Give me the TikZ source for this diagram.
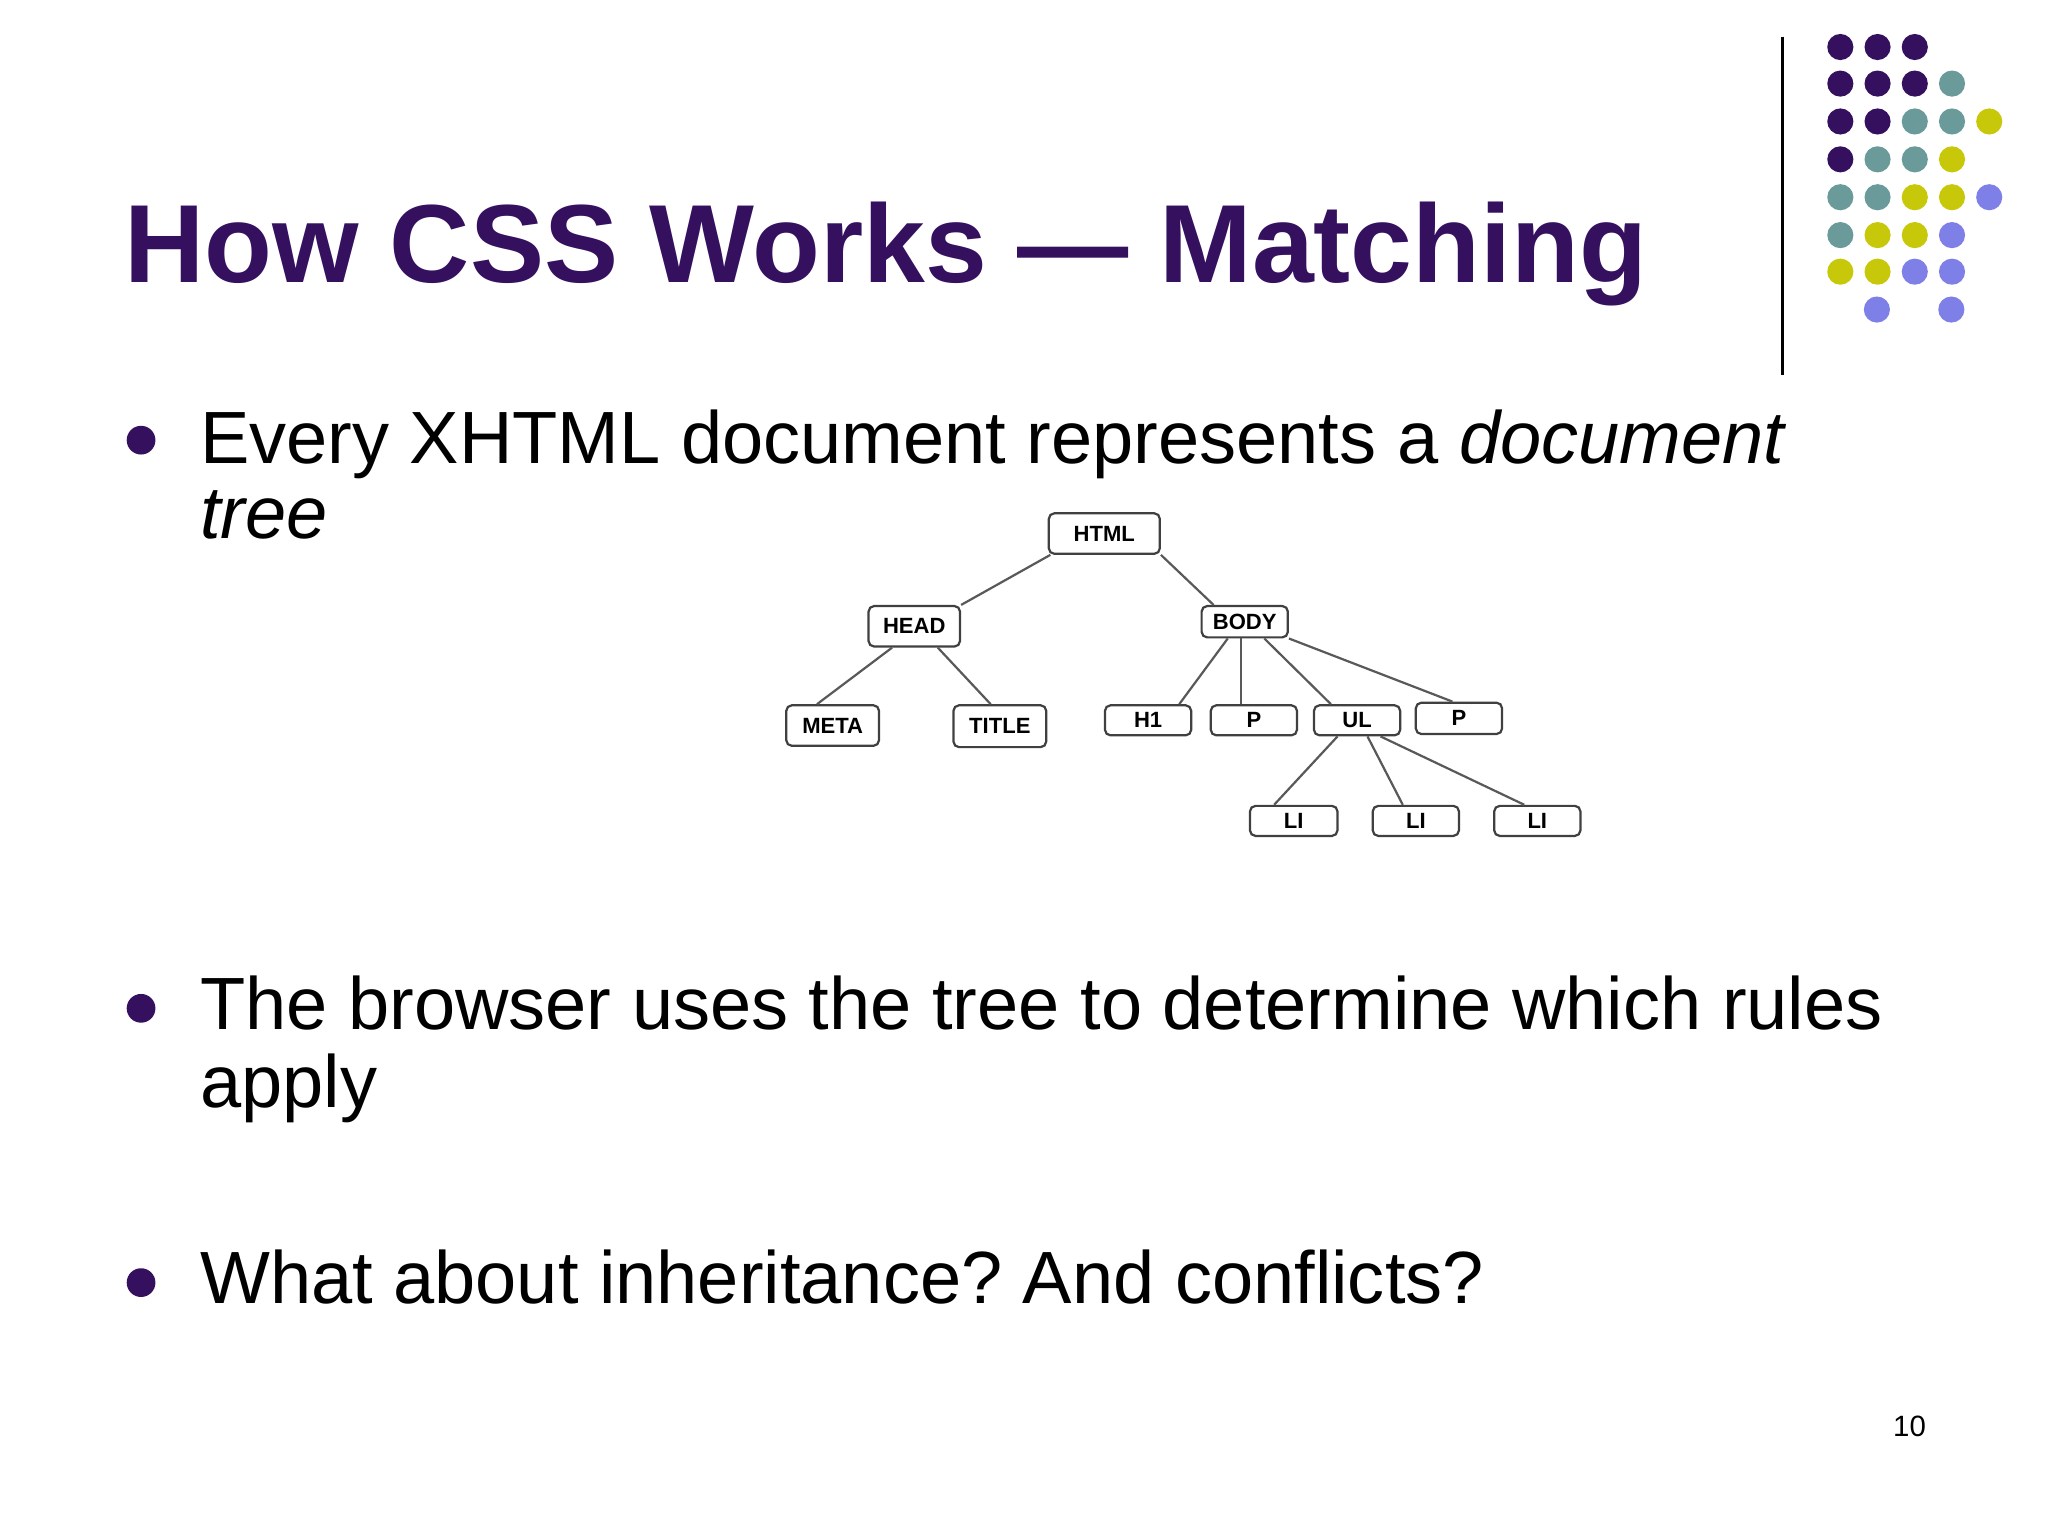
\documentclass[tikz,border=0pt]{standalone}
\usepackage{fontspec}
\setmainfont{Liberation Sans}
\definecolor{dp}{HTML}{35105F}
\definecolor{dt}{HTML}{6A9A9A}
\definecolor{dy}{HTML}{C8C80A}
\definecolor{dl}{HTML}{7F7FE8}
\frenchspacing
\begin{document}
\begin{tikzpicture}[x=0.025cm,y=-0.025cm,
  tbox/.style={draw=black!75,line width=1.2pt,rounded corners=3pt,inner sep=0pt,font=\bfseries\fontsize{12}{12}\selectfont},
  edge/.style={draw=black!65,line width=1.2pt},
  dot/.style={circle,inner sep=0pt,minimum size=0.5cm},
  body/.style={anchor=base west,inner sep=0pt,font=\fontsize{40.3}{48}\selectfont}]
\useasboundingbox (0,0) rectangle (1568,1176);
\fill[white] (0,0) rectangle (1568,1176);
% dots
\foreach \r/\lst in {36/{dp,dp,dp},64/{dp,dp,dp,dt},93/{dp,dp,dt,dt,dy},122/{dp,dt,dt,dy},151/{dt,dt,dy,dy,dl},180/{dt,dy,dy,dl},208/{dy,dy,dl,dl}}{
  \foreach \c [count=\i from 0] in \lst {
    \node[dot,fill=\c] (d\r-\i) at ({1409+\i*28.5},\r) {};
  }
}
\node[dot,fill=dl] (l1) at (1437,237) {};
\node[dot,fill=dl] (l2) at (1494,237) {};
\coordinate (vt) at (1365,28); \coordinate (vb) at (1365,287);
\draw[line width=1.5pt] (vt) -- (vb);
% title
\node[anchor=base west,inner sep=0pt,text=dp,font=\bfseries\fontsize{60.5}{70}\selectfont] (title) at (95,216) {How CSS Works — Matching};
% bullets
\foreach \y/\n in {337/b1,772/b2,982/b3}{\node[circle,fill=dp,inner sep=0pt,minimum size=0.55cm] (\n) at (108,\y) {};}
\node[body] (t1) at (153,355) {Every XHTML document represents a \emph{document}};
\node[body] (t1b) at (153,412) {\emph{tree}};
\node[body] (t2) at (153,788) {The browser uses the tree to determine which rules};
\node[body] (t2b) at (153,848) {apply};
\node[body] (t3) at (153,998) {What about inheritance? And conflicts?};
\node[anchor=base,inner sep=0pt,font=\fontsize{16}{16}\selectfont] (pg) at (1462,1100) {10};
% tree
\newcommand{\tn}[6]{\node[tbox,minimum width={(#4-#3)*0.025cm},minimum height={(#6-#5)*0.025cm}] (#1) at ({(#3+#4)/2},{(#5+#6)/2}) {#2};}
\tn{html}{HTML}{803}{888}{393}{424}
\tn{head}{HEAD}{665}{735}{464}{495}
\tn{bodyn}{BODY}{920}{986}{464}{488}
\tn{meta}{META}{602}{673}{540}{571}
\tn{titl}{TITLE}{730}{801}{540}{572}
\tn{h1}{H1}{846}{912}{540}{563}
\tn{p1}{P}{927}{993}{540}{563}
\tn{ul}{UL}{1006}{1072}{540}{563}
\tn{p2}{P}{1084}{1150}{538}{562}
\tn{li1}{LI}{957}{1024}{617}{640}
\tn{li2}{LI}{1051}{1117}{617}{640}
\tn{li3}{LI}{1144}{1210}{617}{640}
\draw[edge] ([xshift=2*0.025cm]html.south west) -- (head.north east);
\draw[edge] (html.south east) -- ([xshift=10*0.025cm]bodyn.north west);
\draw[edge] ([xshift=-17*0.025cm]head.south) -- ([xshift=-12*0.025cm]meta.north);
\draw[edge] ([xshift=18*0.025cm]head.south) -- ([xshift=-7*0.025cm]titl.north);
\draw[edge] ([xshift=-13*0.025cm]bodyn.south) -- ([xshift=-10*0.025cm]h1.north east);
\draw[edge] ([xshift=-3*0.025cm]bodyn.south) -- ([xshift=-10*0.025cm]p1.north);
\draw[edge] ([xshift=15*0.025cm]bodyn.south) -- ([xshift=-20*0.025cm]ul.north);
\draw[edge] (bodyn.south east) -- ([xshift=-5*0.025cm]p2.north);
\draw[edge] ([xshift=-15*0.025cm]ul.south) -- ([xshift=-15*0.025cm]li1.north);
\draw[edge] ([xshift=8*0.025cm]ul.south) -- ([xshift=-10*0.025cm]li2.north);
\draw[edge] ([xshift=18*0.025cm]ul.south) -- ([xshift=-10*0.025cm]li3.north);
\end{tikzpicture}
\end{document}
